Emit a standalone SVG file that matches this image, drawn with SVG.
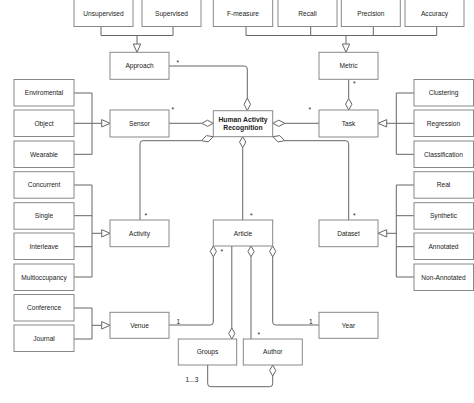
<svg xmlns="http://www.w3.org/2000/svg" width="474" height="403" viewBox="0 0 474 403">
<style>
.b{fill:#fff;stroke:#888;stroke-width:1}
.t{font-family:"Liberation Sans",Arial,sans-serif;font-size:6.6px;fill:#222;text-anchor:middle}
.h{font-weight:bold;font-size:6.8px}
.c{fill:none;stroke:#666;stroke-width:1}
.d{fill:#fff;stroke:#666;stroke-width:1}
.l{font-family:"Liberation Sans",Arial,sans-serif;font-size:6.6px;fill:#222}
</style>
<rect width="474" height="403" fill="#fff"/>
<g id="connectors">
<path class="c" d="M101,26.5V35.5H173V26.5M137,35.5V44"/>
<polygon class="d" points="133.3,44 140.7,44 137,52.3"/>
<path class="c" d="M246,26.5V35.5H436.7V26.5M310.7,26.5V35.5M373.3,26.5V35.5M346,35.5V44"/>
<polygon class="d" points="342.3,44 349.7,44 346,52.3"/>
<path class="c" d="M169,66H244.3Q247.3,66 247.3,69V98"/>
<polygon class="d" points="247.3,98 250.5,104.3 247.3,110.7 244.1,104.3"/>
<path class="c" d="M348.7,79.3V98.5"/>
<polygon class="d" points="348.7,98.5 351.9,104.2 348.7,110 345.5,104.2"/>
<path class="c" d="M169,123.3H201.7"/>
<polygon class="d" points="201.7,123.3 207.5,120.2 213.3,123.3 207.5,126.4"/>
<path class="c" d="M319,123.3H284.9"/>
<polygon class="d" points="272.7,123.3 278.8,120.2 284.9,123.3 278.8,126.4"/>
<path class="c" d="M74,93H92V154.3H74M74,123.3H101.7"/>
<polygon class="d" points="101.7,119.6 101.7,127 110,123.3"/>
<path class="c" d="M414,93H396.3V154.3H414M414,123.3H386.7"/>
<polygon class="d" points="386.7,119.6 386.7,127 378,123.3"/>
<path class="c" d="M74,185H92V277H74M74,215.7H92M74,246.7H92M92,233.3H101.7"/>
<polygon class="d" points="101.7,229.6 101.7,237 110,233.3"/>
<path class="c" d="M414,185H396.3V277H414M414,215.7H396.3M414,246.7H396.3M396.3,233.3H386.7"/>
<polygon class="d" points="386.7,229.6 386.7,237 378,233.3"/>
<path class="c" d="M74,308H92V339H74M92,325.3H101.7"/>
<polygon class="d" points="101.7,321.6 101.7,329 110,325.3"/>
<path class="c" d="M140,220V143.7Q140,140.7 143,140.7H201.5"/>
<polygon class="d" points="201.5,140.7 208.2,141.9 213.3,136.7 206.4,135.6"/>
<path class="c" d="M348.7,220V143.7Q348.7,140.7 345.7,140.7H284.7"/>
<polygon class="d" points="284.7,140.7 278,141.9 272.9,136.7 279.8,135.6"/>
<polygon class="d" points="242.7,136.7 245.9,142.1 242.7,147.5 239.5,142.1"/>
<path class="c" d="M242.7,147.5V220"/>
<polygon class="d" points="213.3,246 216.4,251.4 213.3,256.8 210.2,251.4"/>
<path class="c" d="M213.3,256.8V322Q213.3,325 210.3,325H169"/>
<path class="c" d="M231.8,246V328"/>
<polygon class="d" points="231.8,328 234.9,333.5 231.8,339 228.7,333.5"/>
<polygon class="d" points="251,246 254.1,251.4 251,256.8 247.9,251.4"/>
<path class="c" d="M251,256.8V339"/>
<polygon class="d" points="272.7,246 275.8,251.4 272.7,256.8 269.6,251.4"/>
<path class="c" d="M272.7,256.8V322Q272.7,325 275.7,325H319"/>
<path class="c" d="M207.7,365V383.7Q207.7,386.7 210.7,386.7H269.7Q272.7,386.7 272.7,383.7V376"/>
<polygon class="d" points="272.7,365 275.8,370.5 272.7,376 269.6,370.5"/>
</g>
<g id="labels">
<text class="l" x="176.5" y="65">*</text>
<text class="l" x="353" y="86">*</text>
<text class="l" x="171.5" y="112">*</text>
<text class="l" x="308.5" y="112">*</text>
<text class="l" x="144.5" y="218">*</text>
<text class="l" x="353" y="218">*</text>
<text class="l" x="250" y="218">*</text>
<text class="l" x="220.5" y="254">*</text>
<text class="l" x="257.5" y="336.5">*</text>
<text class="l" x="176.5" y="324">1</text>
<text class="l" x="309" y="324">1</text>
<text class="l" x="185.5" y="381.5">1...3</text>
</g>
<g id="n-unsupervised"><rect class="b" x="74" y="-2" width="59" height="28.5"/><text class="t" x="103.5" y="16.4">Unsupervised</text></g>
<g id="n-supervised"><rect class="b" x="142" y="-2" width="59" height="28.5"/><text class="t" x="171.5" y="16.4">Supervised</text></g>
<g id="n-fmeasure"><rect class="b" x="213.3" y="-2" width="59.4" height="28.5"/><text class="t" x="243" y="16.4">F-measure</text></g>
<g id="n-recall"><rect class="b" x="278" y="-2" width="59" height="28.5"/><text class="t" x="307.5" y="16.4">Recall</text></g>
<g id="n-precision"><rect class="b" x="341.3" y="-2" width="59" height="28.5"/><text class="t" x="370.8" y="16.4">Precision</text></g>
<g id="n-accuracy"><rect class="b" x="405" y="-2" width="59" height="28.5"/><text class="t" x="434.5" y="16.4">Accuracy</text></g>
<g id="n-approach"><rect class="b" x="110" y="52.3" width="59" height="27"/><text class="t" x="139.5" y="68.2">Approach</text></g>
<g id="n-metric"><rect class="b" x="319" y="52.3" width="59" height="27"/><text class="t" x="348.5" y="68.2">Metric</text></g>
<g id="n-sensor"><rect class="b" x="110" y="110" width="59" height="27"/><text class="t" x="139.5" y="125.8">Sensor</text></g>
<g id="n-task"><rect class="b" x="319" y="110" width="59" height="27"/><text class="t" x="348.5" y="125.8">Task</text></g>
<g id="n-har"><rect class="b" x="213.3" y="110.7" width="59.4" height="26"/><text class="t h" x="243" y="122.4">Human Activity</text><text class="t h" x="243" y="130.2">Recognition</text></g>
<g id="n-activity"><rect class="b" x="110" y="220" width="59" height="26.7"/><text class="t" x="139.5" y="235.7">Activity</text></g>
<g id="n-article"><rect class="b" x="213.3" y="220" width="59.4" height="26"/><text class="t" x="243" y="235.5">Article</text></g>
<g id="n-dataset"><rect class="b" x="319" y="220" width="59" height="26.7"/><text class="t" x="348.5" y="235.7">Dataset</text></g>
<g id="n-venue"><rect class="b" x="110" y="312.3" width="59" height="26"/><text class="t" x="139.5" y="327.7">Venue</text></g>
<g id="n-year"><rect class="b" x="319" y="312.3" width="59" height="26"/><text class="t" x="348.5" y="327.7">Year</text></g>
<g id="n-groups"><rect class="b" x="178.3" y="339" width="58.4" height="26"/><text class="t" x="207.5" y="354.4">Groups</text></g>
<g id="n-author"><rect class="b" x="243.3" y="339" width="59" height="26"/><text class="t" x="272.8" y="354.4">Author</text></g>
<g id="n-enviromental"><rect class="b" x="14" y="79.5" width="60" height="26.5"/><text class="t" x="44" y="95.3">Enviromental</text></g>
<g id="n-object"><rect class="b" x="14" y="110" width="60" height="26.5"/><text class="t" x="44" y="125.7">Object</text></g>
<g id="n-wearable"><rect class="b" x="14" y="141" width="60" height="26.5"/><text class="t" x="44" y="156.7">Wearable</text></g>
<g id="n-concurrent"><rect class="b" x="14" y="171.7" width="60" height="26.5"/><text class="t" x="44" y="187.4">Concurrent</text></g>
<g id="n-single"><rect class="b" x="14" y="202.7" width="60" height="26.5"/><text class="t" x="44" y="218.2">Single</text></g>
<g id="n-interleave"><rect class="b" x="14" y="233" width="60" height="26.5"/><text class="t" x="44" y="249">Interleave</text></g>
<g id="n-multioccupancy"><rect class="b" x="14" y="264" width="60" height="26.5"/><text class="t" x="44" y="279.6">Multioccupancy</text></g>
<g id="n-conference"><rect class="b" x="14" y="294.5" width="60" height="26.5"/><text class="t" x="44" y="310.4">Conference</text></g>
<g id="n-journal"><rect class="b" x="14" y="325" width="60" height="26.5"/><text class="t" x="44" y="341.4">Journal</text></g>
<g id="n-clustering"><rect class="b" x="414" y="79.5" width="59.5" height="26.5"/><text class="t" x="443.5" y="95.3">Clustering</text></g>
<g id="n-regression"><rect class="b" x="414" y="110" width="59.5" height="26.5"/><text class="t" x="443.5" y="125.7">Regression</text></g>
<g id="n-classification"><rect class="b" x="414" y="141" width="59.5" height="26.5"/><text class="t" x="443.5" y="156.7">Classification</text></g>
<g id="n-real"><rect class="b" x="414" y="171.7" width="59.5" height="26.5"/><text class="t" x="443.5" y="187.4">Real</text></g>
<g id="n-synthetic"><rect class="b" x="414" y="202.7" width="59.5" height="26.5"/><text class="t" x="443.5" y="218.2">Synthetic</text></g>
<g id="n-annotated"><rect class="b" x="414" y="233" width="59.5" height="26.5"/><text class="t" x="443.5" y="249">Annotated</text></g>
<g id="n-nonannotated"><rect class="b" x="414" y="264" width="59.5" height="26.5"/><text class="t" x="443.5" y="279.6">Non-Annotated</text></g>
</svg>
